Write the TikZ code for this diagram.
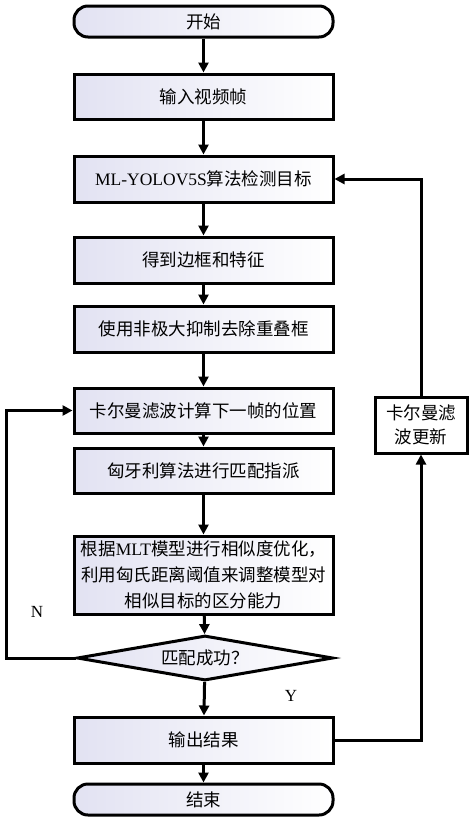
\documentclass[tikz,border=0pt]{standalone}
\usepackage{fontspec}
\setmainfont{Liberation Serif}
\newfontfamily\cjk{Noto Sans CJK SC}
\usetikzlibrary{arrows.meta,shapes.geometric}
\definecolor{fillL}{RGB}{226,226,242}
\begin{document}
\begin{tikzpicture}[x=1pt,y=-1pt,
  every node/.style={font=\fontsize{17.5}{26}\selectfont},
  procbox/.style={draw, line width=3pt, rectangle, minimum width=259pt, minimum height=46pt, inner sep=0pt, left color=fillL, right color=white, align=center},
  termbox/.style={procbox, minimum height=31pt, rounded corners=14pt},
  decbox/.style={draw, line width=3pt, diamond, aspect=5.7, minimum width=256pt, minimum height=45pt, inner sep=0pt, left color=fillL, right color=white},
  sidebox/.style={draw, line width=3pt, rectangle, minimum width=92pt, minimum height=56pt, inner sep=0pt, fill=white, align=center, font=\fontsize{17.5}{24}\selectfont},
  conn/.style={line width=3pt, -{Triangle[length=10pt,width=10pt]}},
  lbl/.style={font=\fontsize{17}{20}\selectfont}
]
\useasboundingbox (0,0) rectangle (474,822);
\node[termbox] (start) at (203.5,21.5) {\cjk 开始};
\node[procbox, minimum height=45pt] (b1) at (203.5,96.5) {\cjk 输入视频帧};
\node[procbox] (b2) at (203.5,179) {ML-YOLOV5S{\cjk 算法检测目标}};
\node[procbox] (b3) at (203.5,260) {\cjk 得到边框和特征};
\node[procbox] (b4) at (203.5,329) {\cjk 使用非极大抑制去除重叠框};
\node[procbox, minimum height=45pt] (b5) at (203.5,410.5) {\cjk 卡尔曼滤波计算下一帧的位置};
\node[procbox, minimum height=45pt] (b6) at (203.5,470.5) {\cjk 匈牙利算法进行匹配指派};
\node[procbox, minimum height=78pt] (b7) at (203.5,575) {{\cjk 根据}MLT{\cjk 模型进行相似度优化，}\\{\cjk 利用匈氏距离阈值来调整模型对}\\{\cjk 相似目标的区分能力}};
\node[decbox] (dec) at (205,658) {\cjk 匹配成功？};
\node[procbox] (b8) at (203.5,740) {\cjk 输出结果};
\node[termbox] (stop) at (203.5,799.5) {\cjk 结束};
\node[sidebox] (kal) at (421,425) {\cjk 卡尔曼滤\\\cjk 波更新};
\node[lbl] (nl) at (37,612) {N};
\node[lbl] (yl) at (291,696) {Y};
\coordinate (lp) at (6,658);
\draw[conn] (start) -- (b1);
\draw[conn] (b1) -- (b2);
\draw[conn] (b2) -- (b3);
\draw[conn] (b3) -- (b4);
\draw[conn] (b4) -- (b5);
\draw[conn] (b5) -- (b6);
\draw[conn] (b6) -- (b7);
\draw[conn] (b7) -- (dec);
\draw[conn] (dec) -- (b8);
\draw[conn] (b8) -- (stop);
\draw[conn] (dec.west) -- (lp) |- (b5.west);
\draw[conn] (b8.east) -| (kal.south);
\draw[conn] (kal.north) |- (b2.east);
\end{tikzpicture}
\end{document}
